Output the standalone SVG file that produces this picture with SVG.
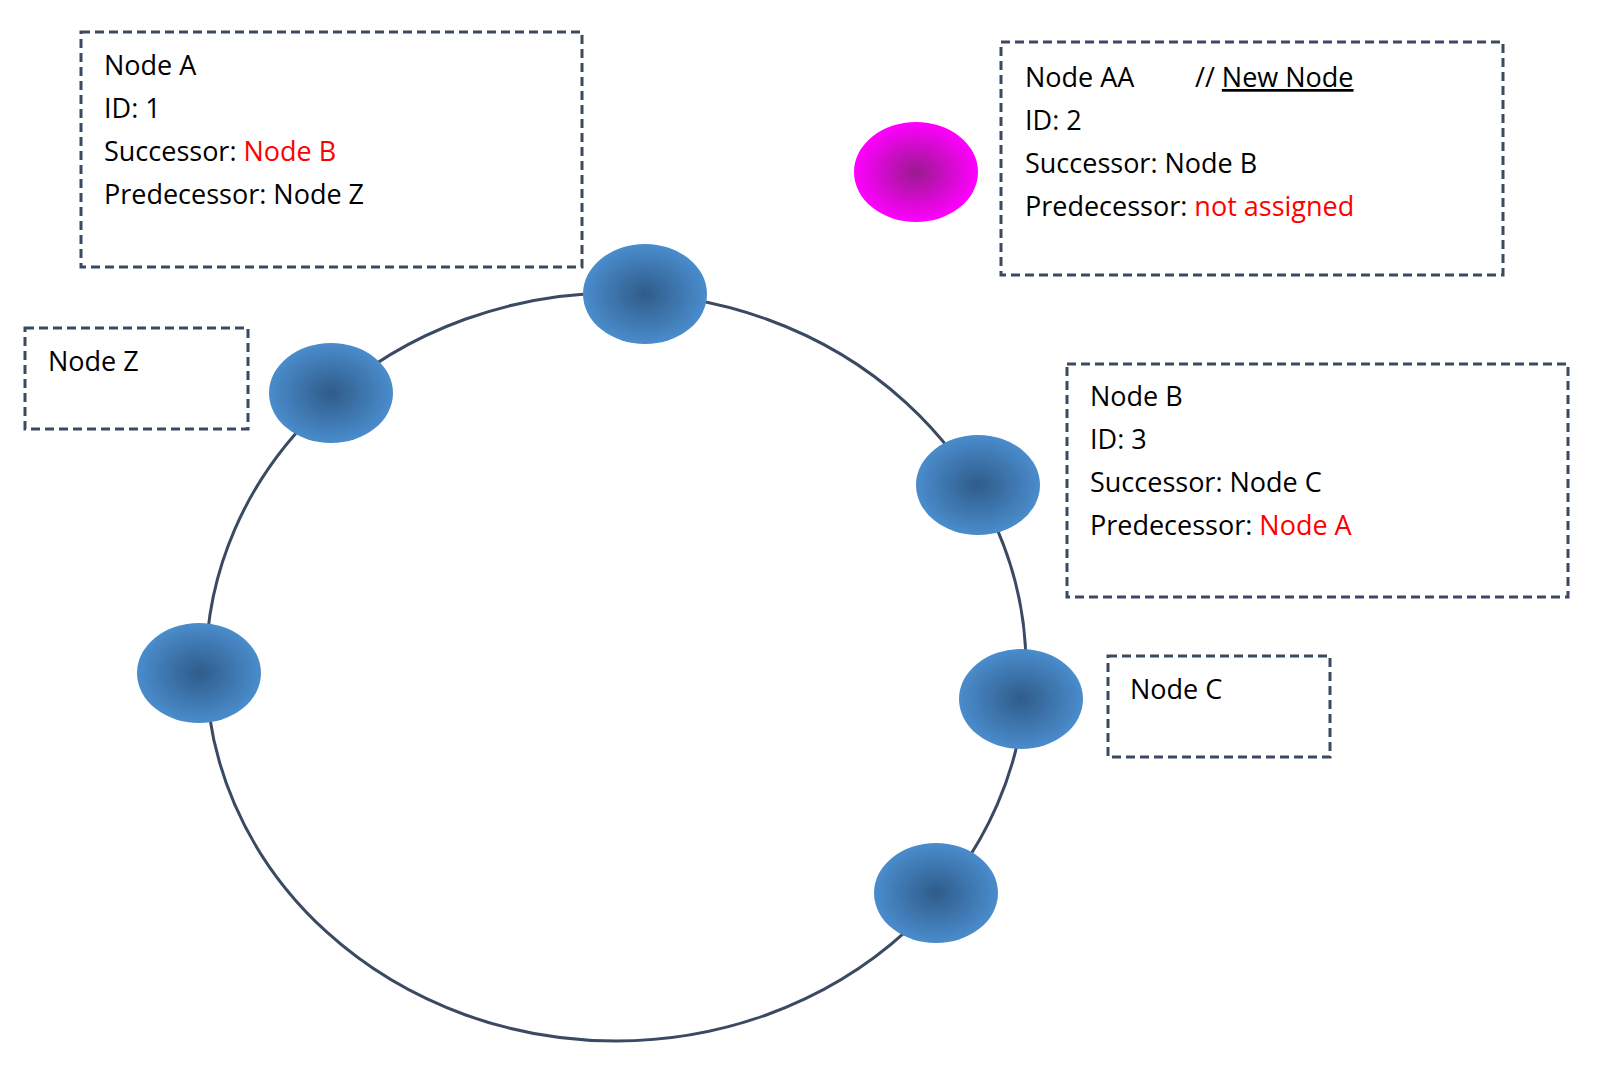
<svg xmlns="http://www.w3.org/2000/svg" width="1600" height="1083" viewBox="0 0 1600 1083">
<style>
.box{fill:none;stroke:#3a4a63;stroke-width:3;stroke-dasharray:9,5}
text{font-family:"Open Sans","Liberation Sans",sans-serif;font-size:27px;fill:#000}
.r{fill:#ff0000}
.n{fill:url(#g)}
</style>
<defs>
<radialGradient id="g"><stop offset="0" stop-color="#2f5c8a"/><stop offset="1" stop-color="#4a8ccc"/></radialGradient>
<radialGradient id="m"><stop offset="0" stop-color="#9a1a8e"/><stop offset="1" stop-color="#ff00ff"/></radialGradient>
</defs>
<rect width="1600" height="1083" fill="#fff"/>
<g id="connectors"><ellipse cx="616" cy="667" rx="410" ry="374" fill="none" stroke="#3a4a63" stroke-width="3"/></g>
<g id="n1"><ellipse class="n" cx="645" cy="294" rx="62" ry="50"/></g>
<g id="n2"><ellipse class="n" cx="331" cy="393" rx="62" ry="50"/></g>
<g id="n3"><ellipse class="n" cx="978" cy="485" rx="62" ry="50"/></g>
<g id="n4"><ellipse class="n" cx="199" cy="673" rx="62" ry="50"/></g>
<g id="n5"><ellipse class="n" cx="1021" cy="699" rx="62" ry="50"/></g>
<g id="n6"><ellipse class="n" cx="936" cy="893" rx="62" ry="50"/></g>
<g id="new"><ellipse cx="916" cy="172" rx="62" ry="50" fill="url(#m)"/></g>
<g id="boxA"><rect class="box" x="81" y="32" width="501" height="235"/>
<text x="104" y="75">Node A</text><text x="104" y="118">ID: 1</text>
<text x="104" y="161">Successor: <tspan class="r">Node B</tspan></text>
<text x="104" y="204">Predecessor: Node Z</text></g>
<g id="boxAA"><rect class="box" x="1001" y="42" width="502" height="233"/>
<text x="1025" y="87">Node AA</text><text x="1195" y="87">// <tspan text-decoration="underline">New Node</tspan></text>
<text x="1025" y="130">ID: 2</text>
<text x="1025" y="173">Successor: Node B</text>
<text x="1025" y="216">Predecessor: <tspan class="r">not assigned</tspan></text></g>
<g id="boxZ"><rect class="box" x="25" y="328" width="223" height="101"/><text x="48" y="371">Node Z</text></g>
<g id="boxB"><rect class="box" x="1067" y="364" width="501" height="233"/>
<text x="1090" y="406">Node B</text><text x="1090" y="449">ID: 3</text>
<text x="1090" y="492">Successor: Node C</text>
<text x="1090" y="535">Predecessor: <tspan class="r">Node A</tspan></text></g>
<g id="boxC"><rect class="box" x="1108" y="656" width="222" height="101"/><text x="1130" y="699">Node C</text></g>
</svg>
